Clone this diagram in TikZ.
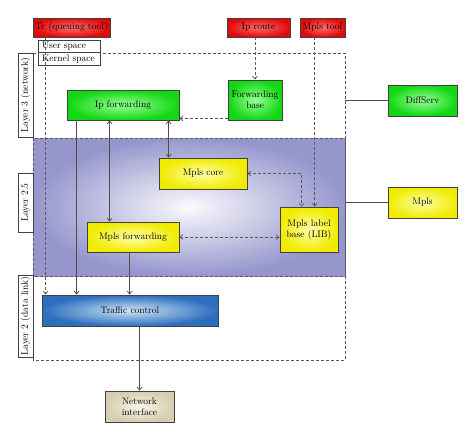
\documentclass[tikz,border=0pt]{standalone}
\usepackage{amsmath}
\usepackage[svgnames]{xcolor}
\usetikzlibrary{arrows,arrows.meta}
\usetikzlibrary{positioning}

\definecolor{toolred}{RGB}{225,10,10}
\definecolor{toolredin}{RGB}{255,110,110}
\definecolor{kgreen}{RGB}{20,215,20}
\definecolor{kgreenin}{RGB}{150,255,150}
\definecolor{kyellow}{RGB}{240,235,0}
\definecolor{kyellowin}{RGB}{255,255,170}
\definecolor{tcblue}{RGB}{45,110,190}
\definecolor{tcbluein}{RGB}{205,228,245}
\definecolor{nibeige}{RGB}{215,205,175}
\definecolor{nibeigein}{RGB}{248,245,235}
\definecolor{lavender}{RGB}{150,150,205}
\definecolor{lavenderin}{RGB}{250,250,253}

\tikzset{
	box/.style={draw=black!75, line width=0.8pt, inner sep=1pt, align=center, font=\fontsize{9.5}{11}\selectfont},
	toolbox/.style={box, inner color=toolredin, outer color=toolred, minimum height=19pt},
	kbox/.style={box, inner color=kgreenin, outer color=kgreen, minimum height=30pt},
	mbox/.style={box, inner color=kyellowin, outer color=kyellow, minimum height=30pt},
	layerbox/.style={draw=black!75, line width=0.8pt, fill=white, rotate=90, minimum height=15pt, inner sep=1pt, font=\fontsize{9.5}{11}\selectfont},
	spacebox/.style={draw=black!75, line width=0.6pt, fill=white, minimum width=62pt, text width=54pt, inner xsep=0pt, inner ysep=0pt, align=left, font=\fontsize{9.5}{11}\selectfont},
	dline/.style={dashed, dash pattern=on 3pt off 2pt, draw=black!65, line width=0.7pt},
	sline/.style={draw=black!70, line width=0.7pt},
	>={Straight Barb[length=3pt,width=5pt]}
}

\begin{document}
\begin{tikzpicture}[x=1pt, y=-1pt]
	\useasboundingbox (0,0) rectangle (474,439);
	% layer 2.5 region and kernel frame
	\path [dline, inner color=lavenderin, outer color=lavender] (33,138) rectangle (345,276);
	\draw [dline] (33,53) rectangle (345,360);
	\coordinate (frameNE) at (345,53);

	% layer labels
	\node [layerbox, minimum width=84pt] (l3) at (25.5,95) {Layer 3 (network)};
	\node [layerbox, minimum width=59pt] (l25) at (25.5,202.5) {Layer 2.5};
	\node [layerbox, minimum width=82pt] (l2) at (25.5,316) {Layer 2 (data link)};

	% user space tools
	\node [toolbox, minimum width=77pt] (tc) at (71.5,27.5) {Tc (queuing tool)};
	\node [toolbox, minimum width=63pt] (iproute) at (258.5,27.5) {Ip route};
	\node [toolbox, minimum width=45pt] (mplstool) at (322.5,27.5) {Mpls tool};
	\node [spacebox, minimum height=12pt] (user) at (69,46) {User space};
	\node [spacebox, minimum height=13pt, below=0pt of user] (kernel) {Kernel space};

	% kernel blocks
	\node [kbox, minimum width=112pt] (ipfwd) at (123,105) {Ip forwarding};
	\node [kbox, minimum width=54pt, minimum height=40pt] (fwdbase) at (255,100) {Forwarding\\base};
	\node [kbox, minimum width=69pt, minimum height=31pt] (diffserv) at (422.5,100.5) {DiffServ};
	\node [mbox, minimum width=88pt, minimum height=31pt] (core) at (203,173.5) {Mpls core};
	\node [mbox, minimum width=92pt] (mplsfwd) at (133,237) {Mpls forwarding};
	\node [mbox, minimum width=58pt, minimum height=45pt] (lib) at (309,229.5) {Mpls label\\base (LIB)};
	\node [mbox, minimum width=69pt, minimum height=31pt] (mpls) at (422.5,202.5) {Mpls};
	\node [box, inner color=tcbluein, outer color=tcblue, minimum width=176pt, minimum height=31pt] (traffic) at (130,310.5) {Traffic control};
	\node [box, inner color=nibeigein, outer color=nibeige, minimum width=69pt, minimum height=31pt] (netif) at (139.5,406.5) {Network\\interface};

	% connectors
	\coordinate (tcd) at ([xshift=13pt]tc.south west);
	\coordinate (mt) at ([xshift=15pt]mplstool.south west);
	\coordinate (fb) at ([yshift=2pt]fwdbase.south west);
	\coordinate (iptc) at ([xshift=10pt]ipfwd.south west);
	\coordinate (ipmf) at ([xshift=43pt]ipfwd.south west);
	\coordinate (ipco) at ([xshift=102pt]ipfwd.south west);
	\coordinate (mftc) at ([xshift=43pt]mplsfwd.south west);
	\coordinate (colb) at ([xshift=22pt]lib.north west);

	\draw [dline, ->] (tcd) -- (tcd |- traffic.north);
	\draw [dline, ->] (iproute.south -| fwdbase.north) -- (fwdbase.north);
	\draw [dline, ->] (mt) -- (mt |- lib.north);
	\draw [dline, ->] (fb) -- (fb -| ipfwd.east);
	\draw [dline, <->] (core.east) -| (colb);
	\draw [dline, <->] (mplsfwd.east) -- (mplsfwd.east -| lib.west);
	\draw [sline, <->] (ipmf) -- (ipmf |- mplsfwd.north);
	\draw [sline, <->] (ipco) -- (ipco |- core.north);
	\draw [sline, ->] (iptc) -- (iptc |- traffic.north);
	\draw [sline, ->] (mftc) -- (mftc |- traffic.north);
	\draw [sline, ->] (netif.north |- traffic.south) -- (netif.north);
	\draw [sline] (diffserv.west) -- (diffserv.west -| frameNE);
	\draw [sline] (mpls.west) -- (mpls.west -| frameNE);
\end{tikzpicture}
\end{document}
